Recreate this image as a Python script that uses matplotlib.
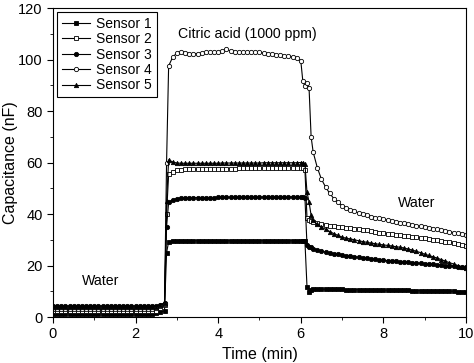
#!/usr/bin/env python3

# capacitance response of five sensors: water -> citric acid -> water

import matplotlib
matplotlib.use('Agg')
import matplotlib.pyplot as plt
from matplotlib.ticker import MultipleLocator

plt.rcParams['font.family'] = ['Liberation Sans', 'DejaVu Sans']

# time axis (min), same sampling for all sensors
times = [0.0, 0.1, 0.2, 0.3, 0.4, 0.5, 0.6, 0.7, 0.8, 0.9,
         1.0, 1.1, 1.2, 1.3, 1.4, 1.5, 1.6, 1.7, 1.8, 1.9,
         2.0, 2.1, 2.2, 2.3, 2.4, 2.5, 2.6, 2.7, 2.75,
         2.8, 2.9, 3.0, 3.1, 3.2, 3.3, 3.4, 3.5, 3.6, 3.7, 3.8, 3.9,
         4.0, 4.1, 4.2, 4.3, 4.4, 4.5, 4.6, 4.7, 4.8, 4.9,
         5.0, 5.1, 5.2, 5.3, 5.4, 5.5, 5.6, 5.7, 5.8, 5.9,
         6.0, 6.05, 6.1, 6.15, 6.2, 6.25,
         6.3, 6.4, 6.5, 6.6, 6.7, 6.8, 6.9,
         7.0, 7.1, 7.2, 7.3, 7.4, 7.5, 7.6, 7.7, 7.8, 7.9,
         8.0, 8.1, 8.2, 8.3, 8.4, 8.5, 8.6, 8.7, 8.8, 8.9,
         9.0, 9.1, 9.2, 9.3, 9.4, 9.5, 9.6, 9.7, 9.8, 9.9, 10.0]

sensor1 = [1.3, 1.3, 1.3, 1.3, 1.3, 1.3, 1.3, 1.3, 1.3, 1.3,
           1.3, 1.3, 1.3, 1.3, 1.3, 1.3, 1.3, 1.3, 1.3, 1.3,
           1.3, 1.3, 1.3, 1.3, 1.3, 1.4, 1.8, 2.4, 25.0,
           29.2, 29.5, 29.6, 29.6, 29.6, 29.6, 29.6, 29.6, 29.6, 29.6, 29.6, 29.6,
           29.6, 29.6, 29.6, 29.6, 29.6, 29.6, 29.6, 29.6, 29.6, 29.6,
           29.6, 29.6, 29.6, 29.6, 29.6, 29.6, 29.6, 29.6, 29.6, 29.6,
           29.6, 29.6, 29.5, 11.8, 9.8, 10.6,
           10.8, 10.8, 10.8, 10.8, 10.7, 10.7, 10.7,
           10.7, 10.6, 10.6, 10.6, 10.6, 10.5, 10.5, 10.5, 10.5, 10.4,
           10.4, 10.4, 10.4, 10.3, 10.3, 10.3, 10.3, 10.2, 10.2, 10.2,
           10.2, 10.1, 10.1, 10.1, 10.1, 10.0, 10.0, 10.0, 9.9, 9.9, 9.9]

sensor2 = [2.3, 2.3, 2.3, 2.3, 2.3, 2.3, 2.3, 2.3, 2.3, 2.3,
           2.3, 2.3, 2.3, 2.3, 2.3, 2.3, 2.3, 2.3, 2.3, 2.3,
           2.3, 2.3, 2.3, 2.3, 2.3, 2.5, 3.5, 4.5, 40.0,
           55.5, 56.5, 57.0, 57.2, 57.3, 57.3, 57.4, 57.4, 57.4, 57.5, 57.5, 57.5,
           57.5, 57.6, 57.6, 57.6, 57.6, 57.7, 57.7, 57.7, 57.7, 57.8,
           57.8, 57.8, 57.8, 57.9, 57.9, 57.9, 58.0, 58.0, 58.0, 58.0,
           58.0, 57.8, 57.2, 38.5, 37.6, 37.2,
           36.8, 36.4, 36.1, 35.8, 35.5, 35.2, 35.0,
           34.8, 34.6, 34.4, 34.2, 34.0, 33.8, 33.6, 33.3, 33.0, 32.8,
           32.6, 32.4, 32.2, 32.0, 31.8, 31.5, 31.3, 31.1, 30.9, 30.7,
           30.5, 30.3, 30.1, 29.9, 29.6, 29.3, 29.0, 28.7, 28.4, 28.1, 27.7]

sensor3 = [4.3, 4.3, 4.3, 4.3, 4.3, 4.3, 4.3, 4.3, 4.3, 4.3,
           4.3, 4.3, 4.3, 4.3, 4.3, 4.3, 4.3, 4.3, 4.3, 4.3,
           4.3, 4.3, 4.3, 4.3, 4.3, 4.4, 4.8, 5.4, 35.0,
           44.5, 45.5, 46.0, 46.2, 46.3, 46.4, 46.4, 46.4, 46.4, 46.4, 46.4, 46.4,
           46.5, 46.5, 46.5, 46.5, 46.5, 46.5, 46.5, 46.5, 46.5, 46.5,
           46.5, 46.6, 46.6, 46.6, 46.6, 46.6, 46.6, 46.6, 46.6, 46.6,
           46.6, 46.6, 46.4, 28.0, 27.3, 27.0,
           26.6, 26.1, 25.6, 25.2, 24.9, 24.6, 24.3,
           24.0, 23.8, 23.6, 23.4, 23.2, 23.0, 22.8, 22.6, 22.4, 22.2,
           22.0, 21.9, 21.8, 21.6, 21.5, 21.3, 21.2, 21.1, 21.0, 20.8,
           20.7, 20.6, 20.4, 20.3, 20.2, 20.0, 19.9, 19.8, 19.6, 19.5, 19.4]

sensor4 = [3.2, 3.2, 3.2, 3.2, 3.2, 3.2, 3.2, 3.2, 3.2, 3.2,
           3.2, 3.2, 3.2, 3.2, 3.2, 3.2, 3.2, 3.2, 3.2, 3.2,
           3.2, 3.2, 3.2, 3.2, 3.2, 3.4, 4.2, 5.0, 60.0,
           97.5, 101.0, 102.5, 103.0, 102.7, 102.3, 102.3, 102.3, 102.4, 102.8, 103.0, 103.0,
           103.0, 103.2, 104.0, 103.3, 103.0, 103.0, 103.0, 103.0, 103.0, 103.0,
           102.8, 102.4, 102.3, 102.3, 101.9, 101.6, 101.5, 101.4, 101.0, 100.5,
           99.5, 91.5, 89.7, 90.7, 89.0, 70.0,
           64.0, 58.0, 53.5, 50.5, 48.0, 46.0, 44.5,
           43.3, 42.5, 41.7, 41.0, 40.5, 40.0, 39.5, 39.0, 38.6, 38.3,
           38.0, 37.6, 37.3, 37.0, 36.7, 36.4, 36.1, 35.8, 35.5, 35.2,
           34.9, 34.6, 34.3, 34.0, 33.7, 33.4, 33.1, 32.8, 32.5, 32.2, 31.9]

sensor5 = [3.9, 3.9, 3.9, 3.9, 3.9, 3.9, 3.9, 3.9, 3.9, 3.9,
           3.9, 3.9, 3.9, 3.9, 3.9, 3.9, 3.9, 3.9, 3.9, 3.9,
           3.9, 3.9, 3.9, 3.9, 3.9, 4.0, 4.6, 5.6, 45.0,
           61.0, 60.2, 59.8, 59.7, 59.7, 59.7, 59.7, 59.7, 59.7, 59.7, 59.7, 59.7,
           59.7, 59.8, 59.8, 59.8, 59.8, 59.8, 59.8, 59.8, 59.8, 59.8,
           59.8, 59.9, 59.9, 59.9, 59.9, 59.9, 59.9, 59.9, 59.9, 59.9,
           60.0, 60.0, 59.5, 48.5, 44.7, 39.5,
           37.5, 36.0, 35.0, 34.0, 33.2, 32.4, 31.7,
           31.0, 30.6, 30.3, 30.0, 29.6, 29.3, 29.0, 28.7, 28.5, 28.2,
           28.0, 27.8, 27.6, 27.3, 27.1, 26.8, 26.4, 26.0, 25.5, 25.0,
           24.4, 23.9, 23.4, 22.9, 22.3, 21.7, 21.1, 20.6, 20.0, 19.5, 18.9]

labels = ['Sensor 1', 'Sensor 2', 'Sensor 3', 'Sensor 4', 'Sensor 5']
markers = ['s', 's', 'o', 'o', '^']
filled = [True, False, True, False, True]

fig = plt.figure(figsize=(4.74, 3.63), dpi=100)
ax = fig.add_axes([0.1118, 0.1267, 0.8713, 0.8512])

series = [sensor1, sensor2, sensor3, sensor4, sensor5]
for vals, lab, mk, fl in zip(series, labels, markers, filled):
    ax.plot(times, vals, color='black', lw=0.8, marker=mk, markersize=3.1,
            markeredgewidth=0.6, markerfacecolor='black' if fl else 'white',
            markeredgecolor='black', label=lab)

ax.set_xlim(0, 10)
ax.set_ylim(0, 120)
ax.xaxis.set_major_locator(MultipleLocator(2))
ax.xaxis.set_minor_locator(MultipleLocator(1))
ax.yaxis.set_major_locator(MultipleLocator(20))
ax.yaxis.set_minor_locator(MultipleLocator(10))
ax.tick_params(which='both', direction='out', top=False, right=False, labelsize=10.5)
ax.tick_params(which='major', length=4)
ax.tick_params(which='minor', length=2.5)

ax.set_xlabel('Time (min)', fontsize=11.5, labelpad=4)
ax.set_ylabel('Capacitance (nF)', fontsize=11.5)
ax.yaxis.set_label_coords(-0.085, 0.5)

ax.text(3.03, 110, 'Citric acid (1000 ppm)', fontsize=10.2, va='center')
ax.text(0.7, 14, 'Water', fontsize=10.2, va='center')
ax.text(8.35, 44.3, 'Water', fontsize=10.2, va='center')

leg = ax.legend(loc='upper left', bbox_to_anchor=(0.0097, 0.987), borderaxespad=0,
                fontsize=10, handlelength=2.0, handletextpad=0.45, labelspacing=0.1,
                borderpad=0.35, fancybox=False, framealpha=1)
leg.get_frame().set_edgecolor('black')
leg.get_frame().set_linewidth(0.8)

fig.savefig('out.png', dpi=100)
